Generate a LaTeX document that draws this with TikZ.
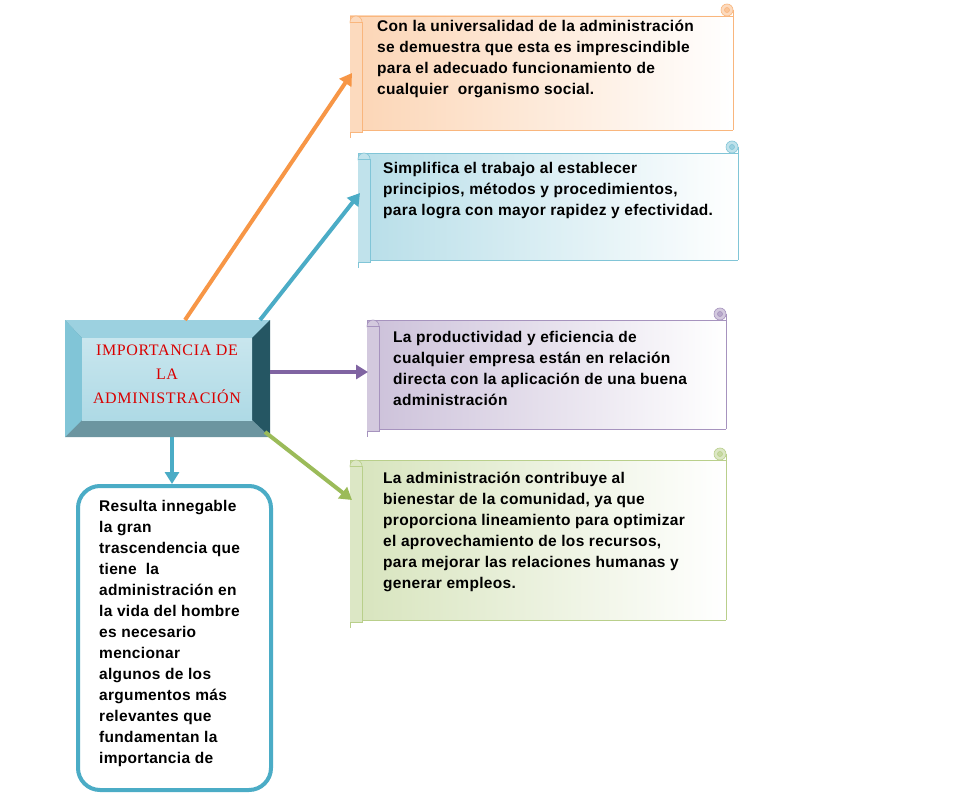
\documentclass[tikz,border=0pt]{standalone}
\usepackage{fontspec}
\setmainfont{Liberation Sans}[LetterSpace=2]
\newfontfamily\serifz{Liberation Serif}[LetterSpace=4]
\usetikzlibrary{arrows.meta,shadings}
\definecolor{orA}{HTML}{F79646}
\definecolor{blA}{HTML}{4BACC6}
\definecolor{puA}{HTML}{8064A2}
\definecolor{grA}{HTML}{9BBB59}
\tikzset{
  txt/.style={anchor=north west,align=left,font=\bfseries\fontsize{15.5}{21}\selectfont,inner sep=0pt},
  conn/.style={line width=4pt,-{Triangle[length=12pt,width=14pt]}},
}
\newcommand{\scrollbox}[6]{% x1,y1,x2,y2,color,name
  \shade[left color=#5!40,right color=white] (#1,#2+8) rectangle (#3,#4-8);
  \draw[#5!70,line width=0.6pt] (#1,#2+8) -- (#3,#2+8) (#1,#4-8) -- (#3,#4-8) (#3,#2+2) -- (#3,#4-8) (#1,#2+8) -- (#1,#4);
  \draw[#5!70,line width=0.6pt,fill=#5!35] (#3-6,#2+2) circle[radius=6];
  \draw[#5!70,line width=0.6pt,fill=#5!55] (#3-6,#2+2) circle[radius=2.5];
  \draw[#5!70,line width=0.6pt,fill=#5!35] (#1+6,#2+14) circle[radius=6];
  \draw[#5!70,line width=0.6pt,fill=#5!35] (#1,#4-6) -- (#1+12,#4-6) -- (#1+12,#2+14) -- (#1,#2+14);
  \coordinate (#6) at (#1,{(#2+#4)/2});
}
\begin{document}
\begin{tikzpicture}[x=1pt,y=-1pt]
\useasboundingbox (0,0) rectangle (962,808);
\fill[white] (0,0) rectangle (962,808);
% central bevel box
\fill[blA!60!black!80] (65,320) rectangle (270,437);
\fill[blA!55!white] (65,320) -- (270,320) -- (252,338) -- (82,338) -- cycle;
\fill[blA!50!black] (270,320) -- (270,437) -- (252,420) -- (252,338) -- cycle;
\fill[blA!60!black!70] (65,437) -- (270,437) -- (252,420) -- (82,420) -- cycle;
\fill[blA!70!white] (65,320) -- (82,338) -- (82,420) -- (65,437) -- cycle;
\shade[top color=blA!30,bottom color=blA!45] (82,338) rectangle (252,420);
\node[font=\serifz\fontsize{16}{24}\selectfont,text=red!85!black,align=center] (imp) at (167,374) {IMPORTANCIA DE\\LA\\ADMINISTRACIÓN};
\coordinate (impT1) at (185,320);
\coordinate (impT2) at (260,320);
\coordinate (impR) at (270,372);
\coordinate (impBR) at (265,432);
\coordinate (impB) at (172,437);
% scrolls
\scrollbox{350}{8}{733}{138}{orA}{s1}
\node[txt] (t1) at (377,20) {Con la universalidad de la administración\\se demuestra que esta es imprescindible\\para el adecuado funcionamiento de\\cualquier\ \ organismo social.};
\scrollbox{358}{145}{738}{268}{blA}{s2}
\node[txt] (t2) at (383,162) {Simplifica el trabajo al establecer\\principios, métodos y procedimientos,\\para logra con mayor rapidez y efectividad.};
\scrollbox{367}{312}{726}{437}{puA}{s3}
\node[txt] (t3) at (393,331) {La productividad y eficiencia de\\cualquier empresa están en relación\\directa con la aplicación de una buena\\administración};
\scrollbox{350}{452}{726}{628}{grA}{s4}
\node[txt] (t4) at (383,472) {La administración contribuye al\\bienestar de la comunidad, ya que\\proporciona lineamiento para optimizar\\el aprovechamiento de los recursos,\\para mejorar las relaciones humanas y\\generar empleos.};
% bottom box
\draw[blA,line width=4pt,fill=white,rounded corners=22pt] (78,486) rectangle (271,790);
\node[txt] (t5) at (99,500) {Resulta innegable\\la gran\\trascendencia que\\tiene\ \ la\\administración en\\la vida del hombre\\es necesario\\mencionar\\algunos de los\\argumentos más\\relevantes que\\fundamentan la\\importancia de};
\coordinate (bb) at (172,484);
\coordinate (a1) at (352,73);
\coordinate (a2) at (360,193);
\coordinate (a3) at (368,372);
\coordinate (a4) at (352,500);
% connectors
\draw[conn,orA] (impT1) -- (a1);
\draw[conn,blA] (impT2) -- (a2);
\draw[conn,puA] (impR) -- (a3);
\draw[conn,grA] (impBR) -- (a4);
\draw[conn,blA] (impB) -- (bb);
\end{tikzpicture}
\end{document}
